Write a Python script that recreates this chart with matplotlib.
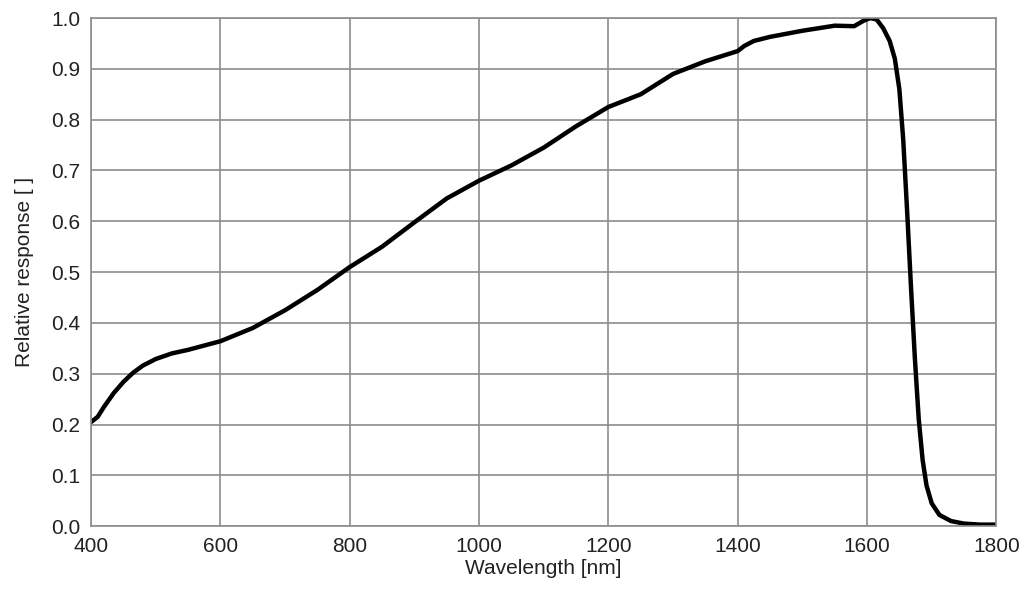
import matplotlib
matplotlib.use('Agg')
import matplotlib.pyplot as plt

# Relative spectral response
wavelength = [400, 410, 420, 435, 450, 465, 480, 500, 525, 550, 600, 650, 700, 750, 800,
              850, 900, 950, 1000, 1050, 1100, 1150, 1200, 1250, 1300, 1350, 1400, 1410,
              1425, 1450, 1500, 1550, 1580, 1595, 1605, 1615, 1625, 1635, 1643, 1650,
              1656, 1662, 1668, 1674, 1680, 1686, 1692, 1700, 1712, 1730, 1750, 1775, 1800]
response = [0.205, 0.215, 0.235, 0.262, 0.284, 0.302, 0.316, 0.329, 0.340, 0.347, 0.364,
            0.390, 0.425, 0.465, 0.510, 0.550, 0.598, 0.645, 0.680, 0.710, 0.745, 0.787,
            0.825, 0.850, 0.890, 0.915, 0.935, 0.945, 0.955, 0.963, 0.975, 0.985, 0.984,
            0.995, 1.0, 0.997, 0.98, 0.955, 0.92, 0.86, 0.76, 0.62, 0.47, 0.33, 0.21,
            0.13, 0.08, 0.045, 0.022, 0.010, 0.005, 0.003, 0.003]

plt.rcParams['font.family'] = ['Liberation Sans', 'DejaVu Sans']

fig = plt.figure(figsize=(10.24, 6.02), dpi=100)
ax = fig.add_axes([0.089, 0.126, 0.884, 0.844])
ax.plot(wavelength, response, color='black', lw=3.2, solid_joinstyle='round')

ax.set_xlim(400, 1800)
ax.set_ylim(0, 1.0)
ax.set_xticks(range(400, 1801, 200))
ax.set_yticks([i / 10 for i in range(11)])
ax.yaxis.set_major_formatter(matplotlib.ticker.FormatStrFormatter('%.1f'))
ax.grid(True, color='#8c8c8c', lw=1.2)
ax.set_axisbelow(True)
for s in ax.spines.values():
    s.set_color('#8c8c8c')
    s.set_linewidth(1.2)
ax.tick_params(length=0, labelsize=15, colors='#222222', pad=8)
ax.set_xlabel('Wavelength [nm]', fontsize=15, color='#222222', labelpad=2)
ax.set_ylabel('Relative response [ ]', fontsize=15, color='#222222', labelpad=12)

fig.savefig('out.png', dpi=100)
